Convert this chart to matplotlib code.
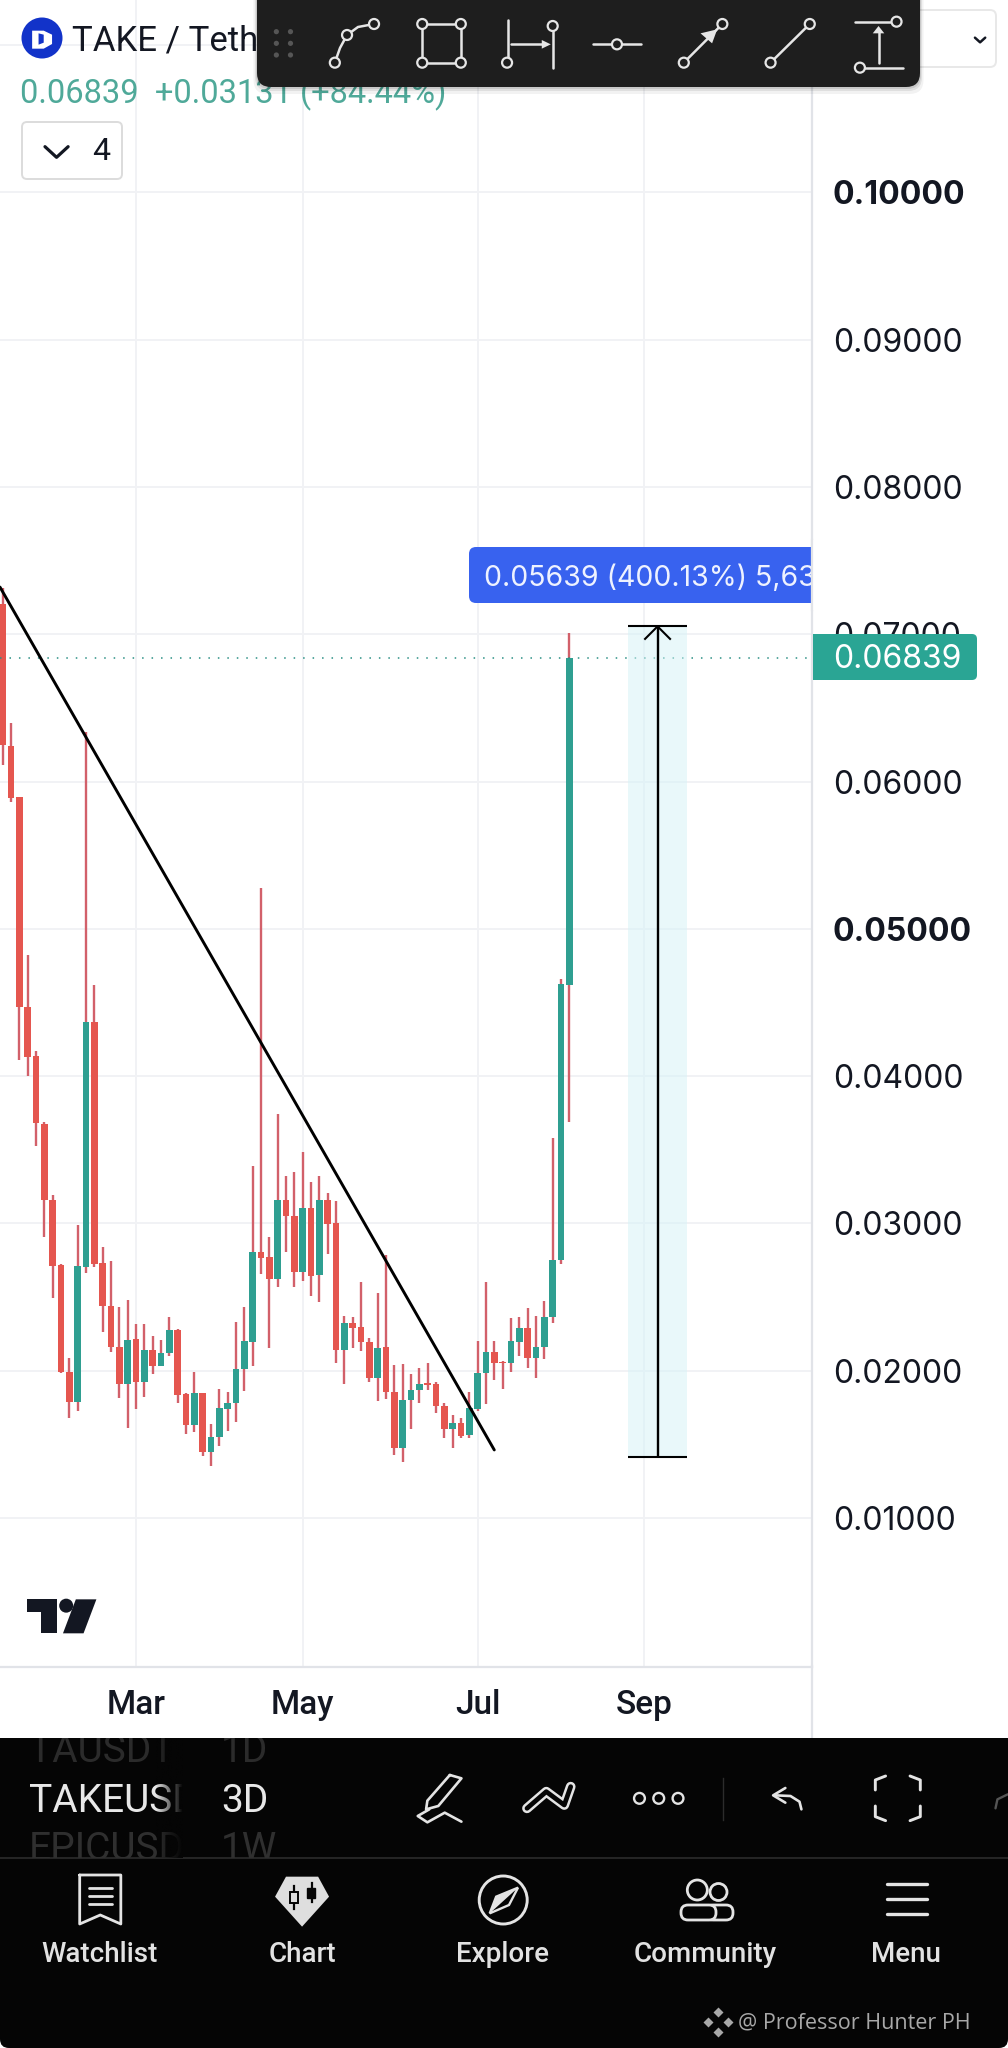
import numpy as np
import matplotlib
matplotlib.use("Agg")
import matplotlib.pyplot as plt
from matplotlib.patches import Rectangle, Circle, Polygon, FancyBboxPatch
from matplotlib.transforms import ScaledTranslation

# ---------- data (price) ----------
highs = [.07314,.06397,.05895,.04822,.04170,.03688,.03193,.02724,.02086,.02989,.06336,.04619,.02840,.02745,.02432,.02480,.02317,.02317,.02236,.02208,.02365,.02283,.01849,.01991,.01849,.01638,.01876,.01855,.02331,.02432,.03390,.05277,.02908,.03743,.03322,.03349,.03485,.03281,.03322,.03206,.03152,.02371,.02365,.02602,.02222,.02528,.02786,.02039,.02046,.01978,.02018,.02052,.01923,.01781,.01699,.01679,.01855,.02202,.02602,.02202,.02066,.02358,.02365,.02426,.02371,.02473,.03580,.04659,.07008]
lows = [.06112,.05861,.04109,.04001,.03526,.02908,.02494,.01984,.01679,.01726,.02663,.02704,.02263,.02127,.01815,.01611,.01740,.01822,.01978,.02032,.02100,.01781,.01570,.01584,.01421,.01353,.01489,.01591,.01652,.01862,.02032,.02657,.02154,.02568,.02806,.02568,.02609,.02507,.02466,.02792,.02052,.01910,.02154,.02134,.01923,.01794,.01808,.01428,.01380,.01604,.01781,.01869,.01713,.01543,.01475,.01543,.01543,.01726,.01774,.01937,.01876,.01991,.02100,.02018,.01950,.02079,.02324,.02724,.03688]
opens = [.07205,.06241,.05895,.04469,.04136,.03675,.03159,.02718,.01991,.01788,.02704,.04367,.02731,.02439,.02161,.01910,.02215,.01923,.02141,.02032,.02120,.02276,.01842,.01631,.01849,.01448,.01550,.01740,.01781,.02012,.02195,.02806,.02772,.02623,.03159,.03050,.02670,.03105,.02650,.03159,.03003,.02141,.02324,.02297,.02195,.01950,.02161,.01855,.01475,.01801,.01869,.01917,.01910,.01760,.01604,.01645,.01563,.01740,.01984,.02127,.02059,.02052,.02195,.02290,.02086,.02161,.02365,.02752,.04619]
closes = [.06248,.05888,.04469,.04130,.03682,.03159,.02711,.01991,.01788,.02711,.04367,.02724,.02439,.02161,.01910,.02208,.01923,.02141,.02032,.02120,.02276,.01835,.01631,.01849,.01448,.01550,.01747,.01781,.02012,.02202,.02806,.02765,.02623,.03159,.03050,.02670,.03105,.02643,.03159,.02996,.02141,.02324,.02290,.02195,.01950,.02154,.01855,.01475,.01801,.01869,.01910,.01903,.01760,.01604,.01645,.01557,.01747,.01984,.02127,.02052,.02052,.02202,.02290,.02086,.02161,.02365,.02752,.04625,.06839]
price_ticks = [.01,.02,.03,.04,.05,.06,.07,.08,.09,.10]
bold_ticks = [.05,.10]
month_labels = ["Mar","May","Jul","Sep"]
month_bars = [16,36,57,77]
last_price = .06839
trend_x = [-0.34,59.0]
trend_y = [.0732,.01462]
range_top, range_bot = .07053,.01414
range_x = [75.05,78.6,82.1]

UP,DOWN = "#2f9f91","#e5564f"
WICK = "#d2606a"
GRID = "#f1f2f5"
AXC = "#e1e3e8"
FONT = ["Inter","DejaVu Sans"]
RB = ["Roboto","DejaVu Sans"]

W,H = 1008,2048
fig = plt.figure(figsize=(W/100,H/100),dpi=100,facecolor="white")

# ---------- price chart ----------
ax = fig.add_axes([0,1-1666.5/H,812/W,1666.5/H])
ax.set_xlim(-0.336,97.14)
ax.set_ylim((1665.3-1666.5)/14730,1665.3/14730)
ax.set_axisbelow(True)
idx = np.arange(len(opens))
o,c,h,l = map(np.array,(opens,closes,highs,lows))
up = c>=o
ax.vlines(idx,l,h,color=WICK,lw=1.7,zorder=2)
ax.bar(idx[up],(c-o)[up],0.8,bottom=o[up],color=UP,zorder=3)
ax.bar(idx[~up],(o-c)[~up],0.8,bottom=c[~up],color=DOWN,zorder=3)
ax.plot(trend_x,trend_y,color="black",lw=2.1,zorder=5,clip_on=True,solid_capstyle="round")
ax.axhline(last_price,color="#2a8f84",lw=1.1,ls=(0,(1,5.2)),zorder=4)
ax.axhline(.11,color=GRID,lw=1.4,zorder=0)
ax.add_patch(Rectangle((range_x[0],range_bot),range_x[2]-range_x[0],range_top-range_bot,fc="#d5f3f7",alpha=.5,ec="none",zorder=4))
ax.hlines([range_top,range_bot],range_x[0],range_x[2],color="black",lw=1.5,zorder=6)
ax.vlines(range_x[1],range_bot,range_top,color="black",lw=1.7,zorder=6)
ax.plot([range_x[1]-1.5,range_x[1],range_x[1]+1.5],[range_top-.00085,range_top,range_top-.00085],color="black",lw=1.5,zorder=6)

ax.yaxis.tick_right()
ax.set_yticks(price_ticks)
ax.set_yticklabels([f"{v:.5f}" for v in price_ticks],fontsize=23,family=FONT,color="#131722")
down1 = ScaledTranslation(0,-1.2/100,fig.dpi_scale_trans)
for lab,v in zip(ax.get_yticklabels(),price_ticks):
    lab.set_transform(lab.get_transform()+down1)
    if v in bold_ticks:
        lab.set_fontweight("bold")
ax.set_xticks(month_bars)
ax.set_xticklabels(month_labels,fontsize=24,family=RB,color="#131722",fontweight="medium")
ax.tick_params(axis="y",length=0,pad=15)
ax.tick_params(axis="x",length=0,pad=16)
ax.grid(True,color=GRID,lw=1.4)
for s in ("top","left"):
    ax.spines[s].set_visible(False)
for s in ("right","bottom"):
    ax.spines[s].set_color(AXC); ax.spines[s].set_linewidth(1.6)

# ---------- screenshot furniture, in pixel coordinates ----------
ov = fig.add_axes([0,0,1,1],zorder=10)
ov.set_xlim(0,W); ov.set_ylim(H,0); ov.axis("off"); ov.patch.set_alpha(0)

def z5(x,y): return (x/1.556,y/3)
def z6(x,y): return (x/1.556,1560+y/3)
def pl(pts,col,lw,z=20,**kw):
    xs,ys = zip(*pts)
    ov.plot(xs,ys,color=col,lw=lw,zorder=z,solid_capstyle="round",solid_joinstyle="round",**kw)
def rbox(x0,y0,x1,y1,r,fc,ec="none",lw=0,z=10,alpha=None):
    p = FancyBboxPatch((x0,y0),x1-x0,y1-y0,boxstyle=f"round,pad=0,rounding_size={r}",fc=fc,ec=ec,lw=lw,zorder=z,alpha=alpha)
    ov.add_patch(p); return p
def ring(x,y,r,ec="#e6e6e6",fc="#1e1e1e",lw=1.6,z=21):
    ov.add_patch(Circle((x,y),r,fc=fc,ec=ec,lw=lw,zorder=z))

ov.plot([812,812],[1666,1738],color=AXC,lw=1.6,zorder=1)

# header
ov.add_patch(Circle((42,38),20.5,fc="#1233c9",ec="none",zorder=5))
ov.add_patch(Polygon([z5(50,92),z5(68,92),z5(81,104),z5(81,132),z5(68,146),z5(50,146)],fc="white",ec="none",zorder=6))
ov.add_patch(Polygon([z5(60,100),z5(68,104),z5(68,128),z5(60,134)],fc="#1233c9",ec="none",zorder=7))
ov.text(72,41,"TAKE / Tether",fontsize=25,family=RB,color="#131722",va="center",ha="left",zorder=5)
ov.text(20,94,"0.06839  +0.03131 (+84.44%)",fontsize=23.5,family=RB,color="#4fa999",va="center",ha="left",zorder=5)
rbox(22,122,122,179,5,"white","#dcdcdc",1.4,z=5)
pl([z5(70,440),z5(88,472),z5(106,440)],"#131722",2.3,z=6)
ov.text(101,152,"4",fontsize=23,family=RB,color="#131722",va="center",ha="center",zorder=6)
rbox(880,10,996,67,6,"white","#e8e8e8",1.4,z=5)
pl([z5(1517,113),z5(1525,127),z5(1533,113)],"#131722",1.8,z=6)

# toolbar
for d,a in ((7,.05),(4,.08),(2,.1)):
    rbox(257-d/2,-20,920+d/2,87+d,14,"black",z=14,alpha=a)
rbox(257,-20,920,87,14,"#1e1e1e",z=15)
for xx in (430,452):
    for yy in (95,130,165):
        ov.add_patch(Circle(z5(xx,yy),2.6,fc="#565656",ec="none",zorder=16))
C = "#e6e6e6"
p1,p2,p3 = z5(521,188),z5(540,105),z5(582,72)
pl([p1,(340,48),p2,(358,27),p3],C,1.8)
for p in (p1,p2,p3): ring(*p,5)
r = [z5(657,72),z5(717,72),z5(717,188),z5(657,188)]
pl(r+[r[0]],C,1.8)
for p in r: ring(*p,5)
pl([z5(790,60),z5(790,175)],C,1.8); ring(*z5(789,188),5)
pl([z5(860,90),z5(860,205)],C,1.8); ring(*z5(860,78),5)
pl([z5(795,133),z5(850,133)],C,1.8)
ov.add_patch(Polygon([z5(857,133),z5(843,120),z5(843,146)],fc=C,ec="none",zorder=21))
pl([z5(922,133),z5(998,133)],C,1.8); ring(*z5(960,133),5)
a0,a1 = z5(1064,188),z5(1124,72)
pl([a0,a1],C,1.8); ring(*a0,5); ring(*a1,5)
ov.add_patch(Polygon([z5(1116,88),z5(1090,100),z5(1108,130)],fc=C,ec="none",zorder=21))
a0,a1 = z5(1199,188),z5(1260,72)
pl([a0,a1],C,1.8); ring(*a0,5); ring(*a1,5)
pl([z5(1330,65),z5(1390,65)],C,1.8); ring(*z5(1395,65),5)
pl([z5(1345,203),z5(1405,203)],C,1.8); ring(*z5(1338,203),5)
pl([z5(1367,190),z5(1367,90)],C,1.8)
ov.add_patch(Polygon([z5(1367,78),z5(1358,100),z5(1376,100)],fc=C,ec="none",zorder=21))

# range label
rbox(469,547,830,603,7,"#3862ef",z=8)
ov.add_patch(Rectangle((812.8,540),200,70,fc="white",ec="none",zorder=8.5))
ov.plot([812,812],[540,610],color=AXC,lw=1.6,zorder=8.6)
t = ov.text(484,578,"0.05639 (400.13%) 5,639",fontsize=20.5,family=FONT,color="#eef2ff",va="center",ha="left",zorder=9)
t.set_clip_path(Rectangle((469,547),342,56,transform=ov.transData))
t.set_clip_on(True)

# last price tag
rbox(813,634,977,680,5,"#2aa594",z=8)
ov.add_patch(Rectangle((813,634),20,46,fc="#2aa594",ec="none",zorder=8))
ov.text(833.5,660,"0.06839",fontsize=23,family=FONT,color="white",va="center",ha="left",zorder=9)

# TradingView mark
K = "#131722"
ov.add_patch(Polygon([z6(42,118),z6(88,118),z6(88,220),z6(64,220),z6(64,155),z6(42,155)],fc=K,ec="none",zorder=5))
ov.add_patch(Circle(z6(103,137),7,fc=K,ec="none",zorder=5))
ov.add_patch(Polygon([z6(118,118),z6(150,118),z6(130,220),z6(98,220)],fc=K,ec="none",zorder=5))

# bottom panel
BG = "#050505"
ov.add_patch(Rectangle((0,1738),W,150,fc=BG,ec="none",zorder=12))
rbox(0,1800,W,2048,9,BG,z=12)
clip = Rectangle((0,1738),183,120,transform=ov.transData)
for txt,yy,col in (("TAUSDT",1752,"#2b2b2b"),("TAKEUSDT",1801,"#e8e8e8"),("EPICUSDT",1850,"#2f2f2f")):
    t = ov.text(29,yy,txt,fontsize=28,family=RB,color=col,va="center",ha="left",zorder=13)
    t.set_clip_path(clip)
    t.set_clip_on(True)
ramp = np.zeros((1,30,4)); ramp[...,:3] = 5/255; ramp[0,:,3] = np.linspace(0,1,30)
ov.imshow(ramp,extent=(155,183,1858,1738),aspect="auto",zorder=14)
ov.set_xlim(0,W); ov.set_ylim(H,0)
for txt,yy,col in (("1D",1752,"#2b2b2b"),("3D",1801,"#e8e8e8"),("1W",1850,"#2f2f2f")):
    t = ov.text(221,yy,txt,fontsize=28,family=RB,color=col,va="center",ha="left",zorder=13)
    t.set_clip_path(Rectangle((200,1738),100,120,transform=ov.transData))
    t.set_clip_on(True)
ov.plot([0,W],[1858,1858],color="#303030",lw=1.1,zorder=13)

I = "#e4e4e4"
# pencil
pl([z6(700,645),z6(718,655),z6(682,738),z6(663,748),z6(665,722),z6(700,645)],I,1.9,z=15)
pl([z6(668,748),z6(650,768),z6(665,787),z6(692,758),z6(718,785)],I,1.9,z=15)
# zigzag
zz = [z6(820,745),z6(850,695),z6(878,735),z6(888,680)]
pl(zz,I,7,z=15); pl(zz,BG,3.4,z=16)
# dots, separator
for xx in (995,1025,1055):
    ov.add_patch(Circle(z6(xx,715),5.4,fc=BG,ec=I,lw=1.7,zorder=15))
ov.plot(*zip(z6(1125,655),z6(1125,780)),color="#2c2c2c",lw=1,zorder=15)
# undo
pl([z6(1247,748),z6(1244,725),z6(1230,708),z6(1206,706)],I,1.9,z=15)
pl([z6(1222,684),z6(1203,706),z6(1222,728)],I,1.9,z=15)
# frame corners
for pts in ([(1362,690),(1362,660),(1378,648)],[(1416,648),(1432,660),(1432,690)],[(1362,738),(1362,770),(1378,782)],[(1416,782),(1432,770),(1432,738)]):
    pl([z6(*p) for p in pts],I,2.1,z=15)
pl([z6(1549,745),z6(1552,718),z6(1568,703)],"#555555",1.7,z=15)

# navigation icons
pl([z6(124,945),z6(188,945),z6(188,1092),z6(156,1065),z6(124,1092),z6(124,945)],I,2,z=15)
for yy in (985,1008,1032):
    pl([z6(138,yy),z6(175,yy)],I,2,z=15)
ov.add_patch(Polygon([z6(445,950),z6(495,950),z6(512,1010),z6(470,1100),z6(428,1010)],fc="#dedede",ec="none",zorder=15))
ov.plot(*zip(z6(458,978),z6(458,1047)),color=BG,lw=1.6,zorder=16)
ov.add_patch(Rectangle(z6(452,995),8,11,fc="#dedede",ec=BG,lw=1.4,zorder=17))
ov.plot(*zip(z6(485,970),z6(485,1027)),color=BG,lw=1.6,zorder=16)
ov.add_patch(Rectangle(z6(478,985),8,10,fc=BG,ec=BG,lw=1,zorder=17))
ov.add_patch(Circle(z6(783,1020),24,fc=BG,ec=I,lw=2.1,zorder=15))
ov.add_patch(Polygon([z6(806,983),z6(792,1035),z6(762,1060),z6(772,1010)],fc=BG,ec=I,lw=1.7,zorder=16))
ov.add_patch(Polygon([z6(806,983),z6(762,1060),z6(772,1010)],fc=I,ec="none",zorder=17))
ov.add_patch(Circle(z6(1085,990),10,fc=BG,ec=I,lw=2,zorder=16))
ov.add_patch(Circle(z6(1118,996),8.5,fc=BG,ec=I,lw=2,zorder=15))
rbox(706,1905,733,1920,7,BG,I,2,z=15)
rbox(681,1905,716,1920,7,BG,I,2,z=16)
for yy in (972,1018,1062):
    pl([z6(1380,yy),z6(1442,yy)],I,2.4,z=15)

for txt,xx in zip(("Watchlist","Chart","Explore","Community","Menu"),(100,302,503,705,906)):
    ov.text(xx,1954,txt,fontsize=20,family=RB,color="#e2e2e2",ha="center",va="center",fontweight="medium",zorder=15)

# watermark
ov.text(738,2023,"@ Professor Hunter PH",fontsize=15.5,family=["Open Sans","DejaVu Sans"],color="#a8a8a8",ha="left",va="center",zorder=15)
for dx,dy in ((0,-10),(0,10),(-10,0),(10,0)):
    ov.plot(718+dx,2022+dy,marker="D",ms=5,mfc="#a8a8a8",mec="none",zorder=15)

fig.savefig("out.png",dpi=100,facecolor="white")
